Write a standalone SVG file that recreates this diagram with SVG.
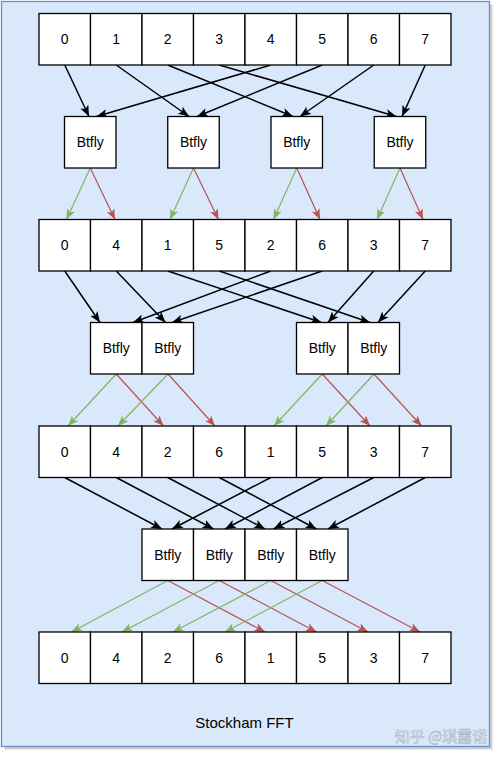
<svg xmlns="http://www.w3.org/2000/svg" width="500" height="758" viewBox="0 0 500 758">
<style>
.cell{fill:#ffffff;stroke:#000000;stroke-width:1.3}
.t{font-family:"Liberation Sans",Arial,sans-serif;font-size:14px;fill:#000000;text-anchor:middle}
.k{stroke:#000000;stroke-width:1.5;fill:none}
.g{stroke:#82b366;stroke-width:1.2;fill:none}
.r{stroke:#b85450;stroke-width:1.2;fill:none}
</style>
<defs>
<marker id="ak" viewBox="0 0 10 8" refX="10" refY="4" markerWidth="11" markerHeight="8.8" markerUnits="userSpaceOnUse" orient="auto"><path d="M0,0 L10,4 L0,8 L2.5,4 Z" fill="#000000"/></marker>
<marker id="ag" viewBox="0 0 10 8" refX="10" refY="4" markerWidth="10.5" markerHeight="8.4" markerUnits="userSpaceOnUse" orient="auto"><path d="M0,0 L10,4 L0,8 L2.5,4 Z" fill="#82b366"/></marker>
<marker id="ar" viewBox="0 0 10 8" refX="10" refY="4" markerWidth="10.5" markerHeight="8.4" markerUnits="userSpaceOnUse" orient="auto"><path d="M0,0 L10,4 L0,8 L2.5,4 Z" fill="#b85450"/></marker>
</defs>
<rect x="4.5" y="4.5" width="488" height="745" fill="#9a9a9a" opacity="0.45"/>
<rect id="panel" x="1.5" y="1.5" width="488" height="745" fill="#dae8fc" stroke="#6c8ebf" stroke-width="1.3"/>

<g id="connectors">
<!-- stage 1 inputs -->
<line class="k" x1="64.75" y1="65" x2="89" y2="116.5" marker-end="url(#ak)"/>
<line class="k" x1="270.75" y1="65" x2="96.5" y2="116.5" marker-end="url(#ak)"/>
<line class="k" x1="116.25" y1="65" x2="189" y2="116.5" marker-end="url(#ak)"/>
<line class="k" x1="322.25" y1="65" x2="197" y2="116.5" marker-end="url(#ak)"/>
<line class="k" x1="167.75" y1="65" x2="293" y2="116.5" marker-end="url(#ak)"/>
<line class="k" x1="373.75" y1="65" x2="300" y2="116.5" marker-end="url(#ak)"/>
<line class="k" x1="219.25" y1="65" x2="396.5" y2="116.5" marker-end="url(#ak)"/>
<line class="k" x1="425.25" y1="65" x2="402" y2="116.5" marker-end="url(#ak)"/>
<!-- stage 1 outputs -->
<line class="g" x1="90.25" y1="168" x2="66.5" y2="219.5" marker-end="url(#ag)"/>
<line class="r" x1="90.25" y1="168" x2="115" y2="219.5" marker-end="url(#ar)"/>
<line class="g" x1="193.5" y1="168" x2="170" y2="219.5" marker-end="url(#ag)"/>
<line class="r" x1="193.5" y1="168" x2="218.5" y2="219.5" marker-end="url(#ar)"/>
<line class="g" x1="296.75" y1="168" x2="273.5" y2="219.5" marker-end="url(#ag)"/>
<line class="r" x1="296.75" y1="168" x2="320" y2="219.5" marker-end="url(#ar)"/>
<line class="g" x1="400" y1="168" x2="377" y2="219.5" marker-end="url(#ag)"/>
<line class="r" x1="400" y1="168" x2="423" y2="219.5" marker-end="url(#ar)"/>
<!-- stage 2 inputs -->
<line class="k" x1="64.75" y1="271" x2="100" y2="322.5" marker-end="url(#ak)"/>
<line class="k" x1="270.75" y1="271" x2="133" y2="322.5" marker-end="url(#ak)"/>
<line class="k" x1="116.25" y1="271" x2="165.5" y2="322.5" marker-end="url(#ak)"/>
<line class="k" x1="322.25" y1="271" x2="172" y2="322.5" marker-end="url(#ak)"/>
<line class="k" x1="167.75" y1="271" x2="321.5" y2="322.5" marker-end="url(#ak)"/>
<line class="k" x1="373.75" y1="271" x2="328" y2="322.5" marker-end="url(#ak)"/>
<line class="k" x1="219.25" y1="271" x2="370" y2="322.5" marker-end="url(#ak)"/>
<line class="k" x1="425.25" y1="271" x2="378" y2="322.5" marker-end="url(#ak)"/>
<!-- stage 2 outputs -->
<line class="g" x1="116.25" y1="374" x2="68" y2="426" marker-end="url(#ag)"/>
<line class="r" x1="116.25" y1="374" x2="163.5" y2="426" marker-end="url(#ar)"/>
<line class="g" x1="168" y1="374" x2="118" y2="426" marker-end="url(#ag)"/>
<line class="r" x1="168" y1="374" x2="215" y2="426" marker-end="url(#ar)"/>
<line class="g" x1="322.25" y1="374" x2="274" y2="426" marker-end="url(#ag)"/>
<line class="r" x1="322.25" y1="374" x2="370" y2="426" marker-end="url(#ar)"/>
<line class="g" x1="374" y1="374" x2="326" y2="426" marker-end="url(#ag)"/>
<line class="r" x1="374" y1="374" x2="421.5" y2="426" marker-end="url(#ar)"/>
<!-- stage 3 inputs -->
<line class="k" x1="64.75" y1="477.5" x2="162" y2="529" marker-end="url(#ak)"/>
<line class="k" x1="270.75" y1="477.5" x2="172" y2="529" marker-end="url(#ak)"/>
<line class="k" x1="116.25" y1="477.5" x2="213.5" y2="529" marker-end="url(#ak)"/>
<line class="k" x1="322.25" y1="477.5" x2="225" y2="529" marker-end="url(#ak)"/>
<line class="k" x1="167.75" y1="477.5" x2="265" y2="529" marker-end="url(#ak)"/>
<line class="k" x1="373.75" y1="477.5" x2="273.5" y2="529" marker-end="url(#ak)"/>
<line class="k" x1="219.25" y1="477.5" x2="316.5" y2="529" marker-end="url(#ak)"/>
<line class="k" x1="425.25" y1="477.5" x2="328" y2="529" marker-end="url(#ak)"/>
<!-- stage 3 outputs -->
<line class="g" x1="167.75" y1="580.5" x2="71.5" y2="632" marker-end="url(#ag)"/>
<line class="r" x1="167.75" y1="580.5" x2="265" y2="632" marker-end="url(#ar)"/>
<line class="g" x1="219.25" y1="580.5" x2="122" y2="632" marker-end="url(#ag)"/>
<line class="r" x1="219.25" y1="580.5" x2="316.5" y2="632" marker-end="url(#ar)"/>
<line class="g" x1="270.75" y1="580.5" x2="173" y2="632" marker-end="url(#ag)"/>
<line class="r" x1="270.75" y1="580.5" x2="368" y2="632" marker-end="url(#ar)"/>
<line class="g" x1="322.25" y1="580.5" x2="225" y2="632" marker-end="url(#ag)"/>
<line class="r" x1="322.25" y1="580.5" x2="420" y2="632" marker-end="url(#ar)"/>
</g>

<!-- row 1 -->
<g id="r1c0"><rect class="cell" x="39" y="13.5" width="51.5" height="51.5"/><text class="t" x="64.75" y="44.2">0</text></g>
<g id="r1c1"><rect class="cell" x="90.5" y="13.5" width="51.5" height="51.5"/><text class="t" x="116.25" y="44.2">1</text></g>
<g id="r1c2"><rect class="cell" x="142" y="13.5" width="51.5" height="51.5"/><text class="t" x="167.75" y="44.2">2</text></g>
<g id="r1c3"><rect class="cell" x="193.5" y="13.5" width="51.5" height="51.5"/><text class="t" x="219.25" y="44.2">3</text></g>
<g id="r1c4"><rect class="cell" x="245" y="13.5" width="51.5" height="51.5"/><text class="t" x="270.75" y="44.2">4</text></g>
<g id="r1c5"><rect class="cell" x="296.5" y="13.5" width="51.5" height="51.5"/><text class="t" x="322.25" y="44.2">5</text></g>
<g id="r1c6"><rect class="cell" x="348" y="13.5" width="51.5" height="51.5"/><text class="t" x="373.75" y="44.2">6</text></g>
<g id="r1c7"><rect class="cell" x="399.5" y="13.5" width="51.5" height="51.5"/><text class="t" x="425.25" y="44.2">7</text></g>

<!-- stage 1 butterflies -->
<g id="b1a"><rect class="cell" x="64.5" y="116.5" width="51.5" height="51.5"/><text class="t" x="90.25" y="147.2">Btfly</text></g>
<g id="b1b"><rect class="cell" x="167.75" y="116.5" width="51.5" height="51.5"/><text class="t" x="193.5" y="147.2">Btfly</text></g>
<g id="b1c"><rect class="cell" x="271" y="116.5" width="51.5" height="51.5"/><text class="t" x="296.75" y="147.2">Btfly</text></g>
<g id="b1d"><rect class="cell" x="374.25" y="116.5" width="51.5" height="51.5"/><text class="t" x="400" y="147.2">Btfly</text></g>

<!-- row 2 -->
<g id="r2c0"><rect class="cell" x="39" y="219.5" width="51.5" height="51.5"/><text class="t" x="64.75" y="250.2">0</text></g>
<g id="r2c1"><rect class="cell" x="90.5" y="219.5" width="51.5" height="51.5"/><text class="t" x="116.25" y="250.2">4</text></g>
<g id="r2c2"><rect class="cell" x="142" y="219.5" width="51.5" height="51.5"/><text class="t" x="167.75" y="250.2">1</text></g>
<g id="r2c3"><rect class="cell" x="193.5" y="219.5" width="51.5" height="51.5"/><text class="t" x="219.25" y="250.2">5</text></g>
<g id="r2c4"><rect class="cell" x="245" y="219.5" width="51.5" height="51.5"/><text class="t" x="270.75" y="250.2">2</text></g>
<g id="r2c5"><rect class="cell" x="296.5" y="219.5" width="51.5" height="51.5"/><text class="t" x="322.25" y="250.2">6</text></g>
<g id="r2c6"><rect class="cell" x="348" y="219.5" width="51.5" height="51.5"/><text class="t" x="373.75" y="250.2">3</text></g>
<g id="r2c7"><rect class="cell" x="399.5" y="219.5" width="51.5" height="51.5"/><text class="t" x="425.25" y="250.2">7</text></g>

<!-- stage 2 butterflies -->
<g id="b2a"><rect class="cell" x="90.5" y="322.5" width="51.5" height="51.5"/><text class="t" x="116.25" y="353.2">Btfly</text></g>
<g id="b2b"><rect class="cell" x="142" y="322.5" width="51.5" height="51.5"/><text class="t" x="167.75" y="353.2">Btfly</text></g>
<g id="b2c"><rect class="cell" x="296.5" y="322.5" width="51.5" height="51.5"/><text class="t" x="322.25" y="353.2">Btfly</text></g>
<g id="b2d"><rect class="cell" x="348" y="322.5" width="51.5" height="51.5"/><text class="t" x="373.75" y="353.2">Btfly</text></g>

<!-- row 3 -->
<g id="r3c0"><rect class="cell" x="39" y="426" width="51.5" height="51.5"/><text class="t" x="64.75" y="456.7">0</text></g>
<g id="r3c1"><rect class="cell" x="90.5" y="426" width="51.5" height="51.5"/><text class="t" x="116.25" y="456.7">4</text></g>
<g id="r3c2"><rect class="cell" x="142" y="426" width="51.5" height="51.5"/><text class="t" x="167.75" y="456.7">2</text></g>
<g id="r3c3"><rect class="cell" x="193.5" y="426" width="51.5" height="51.5"/><text class="t" x="219.25" y="456.7">6</text></g>
<g id="r3c4"><rect class="cell" x="245" y="426" width="51.5" height="51.5"/><text class="t" x="270.75" y="456.7">1</text></g>
<g id="r3c5"><rect class="cell" x="296.5" y="426" width="51.5" height="51.5"/><text class="t" x="322.25" y="456.7">5</text></g>
<g id="r3c6"><rect class="cell" x="348" y="426" width="51.5" height="51.5"/><text class="t" x="373.75" y="456.7">3</text></g>
<g id="r3c7"><rect class="cell" x="399.5" y="426" width="51.5" height="51.5"/><text class="t" x="425.25" y="456.7">7</text></g>

<!-- stage 3 butterflies -->
<g id="b3a"><rect class="cell" x="142" y="529" width="51.5" height="51.5"/><text class="t" x="167.75" y="559.7">Btfly</text></g>
<g id="b3b"><rect class="cell" x="193.5" y="529" width="51.5" height="51.5"/><text class="t" x="219.25" y="559.7">Btfly</text></g>
<g id="b3c"><rect class="cell" x="245" y="529" width="51.5" height="51.5"/><text class="t" x="270.75" y="559.7">Btfly</text></g>
<g id="b3d"><rect class="cell" x="296.5" y="529" width="51.5" height="51.5"/><text class="t" x="322.25" y="559.7">Btfly</text></g>

<!-- row 4 -->
<g id="r4c0"><rect class="cell" x="39" y="632" width="51.5" height="51.5"/><text class="t" x="64.75" y="662.7">0</text></g>
<g id="r4c1"><rect class="cell" x="90.5" y="632" width="51.5" height="51.5"/><text class="t" x="116.25" y="662.7">4</text></g>
<g id="r4c2"><rect class="cell" x="142" y="632" width="51.5" height="51.5"/><text class="t" x="167.75" y="662.7">2</text></g>
<g id="r4c3"><rect class="cell" x="193.5" y="632" width="51.5" height="51.5"/><text class="t" x="219.25" y="662.7">6</text></g>
<g id="r4c4"><rect class="cell" x="245" y="632" width="51.5" height="51.5"/><text class="t" x="270.75" y="662.7">1</text></g>
<g id="r4c5"><rect class="cell" x="296.5" y="632" width="51.5" height="51.5"/><text class="t" x="322.25" y="662.7">5</text></g>
<g id="r4c6"><rect class="cell" x="348" y="632" width="51.5" height="51.5"/><text class="t" x="373.75" y="662.7">3</text></g>
<g id="r4c7"><rect class="cell" x="399.5" y="632" width="51.5" height="51.5"/><text class="t" x="425.25" y="662.7">7</text></g>

<g id="title"><text class="t" x="244.5" y="727.5" style="font-size:15px">Stockham FFT</text></g>
<g id="watermark"><text x="441" y="742" text-anchor="middle" font-family="'Noto Sans CJK SC',sans-serif" font-size="15" fill="#f3f6fa" stroke="#a7b1bd" stroke-width="0.6" opacity="0.9">知乎 @琪露诺</text></g>
</svg>
